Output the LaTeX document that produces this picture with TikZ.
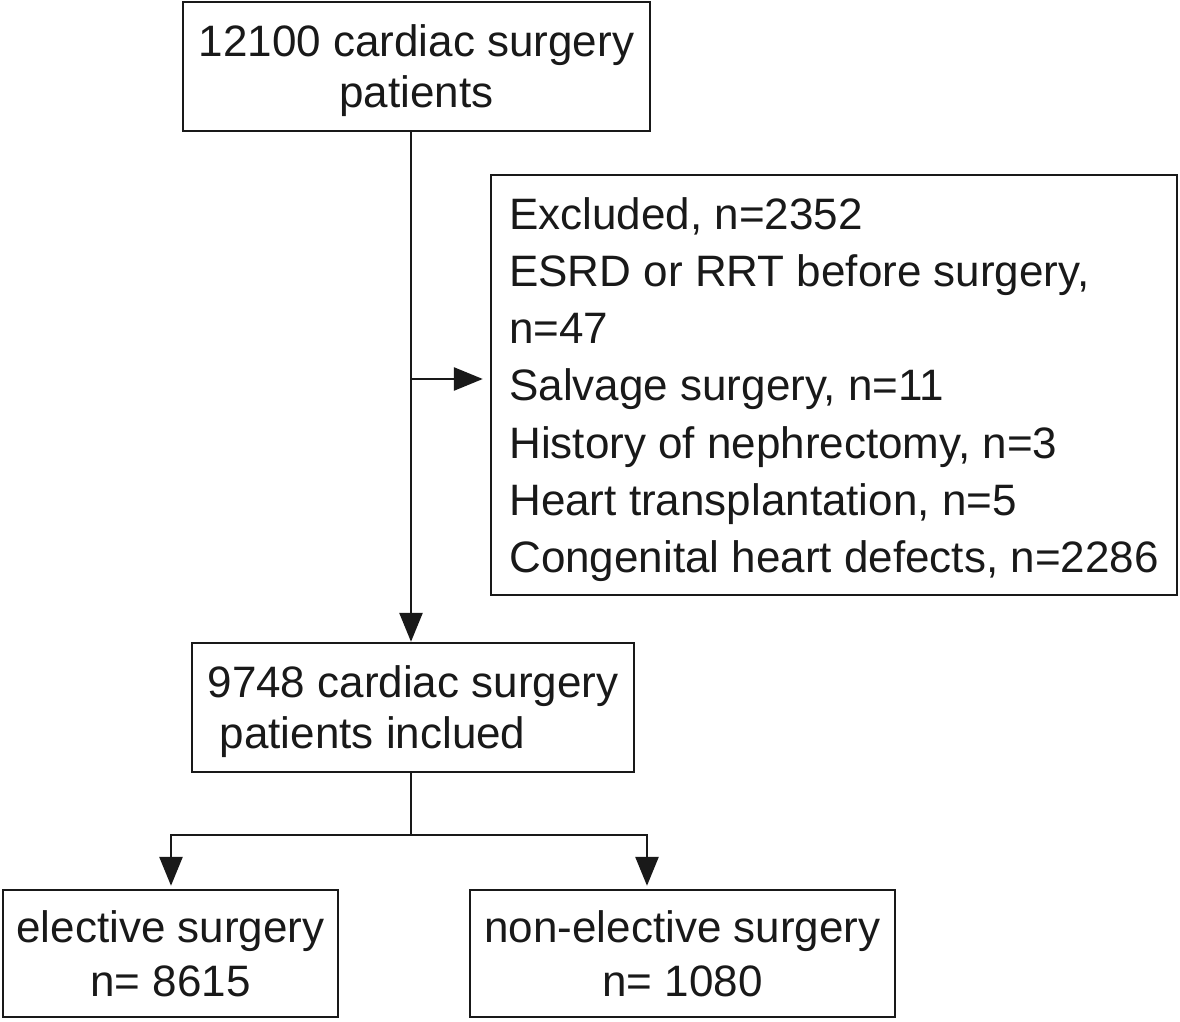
\documentclass[tikz,border=0pt]{standalone}
\usepackage{fontspec}
\setmainfont{Liberation Sans}
\usepackage{tikz}
\usetikzlibrary{positioning}
\usetikzlibrary{calc}
\usetikzlibrary{arrows.meta}
\tikzset{>=stealth}
\definecolor{ink}{gray}{0.1}
\tikzstyle{box} = [draw=ink, rectangle, line width=1.2pt, inner sep=0pt,
text depth=0pt, text=ink, font=\fontsize{22pt}{25.5pt}\selectfont]
\tikzstyle{line} = [draw=ink, line width=1.35pt, -{Triangle[length=14.5pt,width=11.5pt]}]
\tikzstyle{wire} = [draw=ink, line width=1.35pt]

\begin{document}
\begin{tikzpicture}[x=0.5pt, y=-0.5pt,
            tall/.style={minimum height=64.5pt},
            low/.style={minimum height=63.5pt, font=\fontsize{22pt}{26.8pt}\selectfont}]
            \useasboundingbox (0,0) rectangle (1180,1022);
            \node[box, tall, minimum width=233.5pt, align=center] (total) at (416.5,66.5) {12100 cardiac surgery\\patients};
            \node[box, minimum width=343pt, minimum height=210pt, align=left,
            font=\fontsize{22pt}{28.6pt}\selectfont] (excl) at (834,385) {Excluded, n=2352\\ESRD or RRT before surgery,\\n=47\\Salvage surgery, n=11\\History of nephrectomy, n=3\\Heart transplantation, n=5\\Congenital heart defects, n=2286};
            \node[box, tall, minimum width=221pt, align=left] (incl) at (413,707.5) {9748 cardiac surgery\\\ patients inclued};
            \node[box, low, minimum width=167.5pt, align=center] (elec) at (170.5,953.5) {elective surgery\\n= 8615};
            \node[box, low, minimum width=212.5pt, align=center] (nonelec) at (682.5,953.5) {non-elective surgery\\n= 1080};
            %% Branch points
            \coordinate (split) at (411,379);
            \coordinate (fork) at (411,835);
            \coordinate (forkL) at (171,835);
            \coordinate (forkR) at (647,835);
            %% Flows
            \path [line] (total.south -| split) to (incl.north -| split);
            \path [line, shorten >=3.5pt] (split) to (excl.west |- split);
            %%
            \path [wire] (incl.south -| fork) to (fork);
            \path [line, shorten >=1.5pt] (fork) -| (forkL |- elec.north);
            \path [line, shorten >=1.5pt] (fork) -| (forkR |- nonelec.north);
\end{tikzpicture}
\end{document}
